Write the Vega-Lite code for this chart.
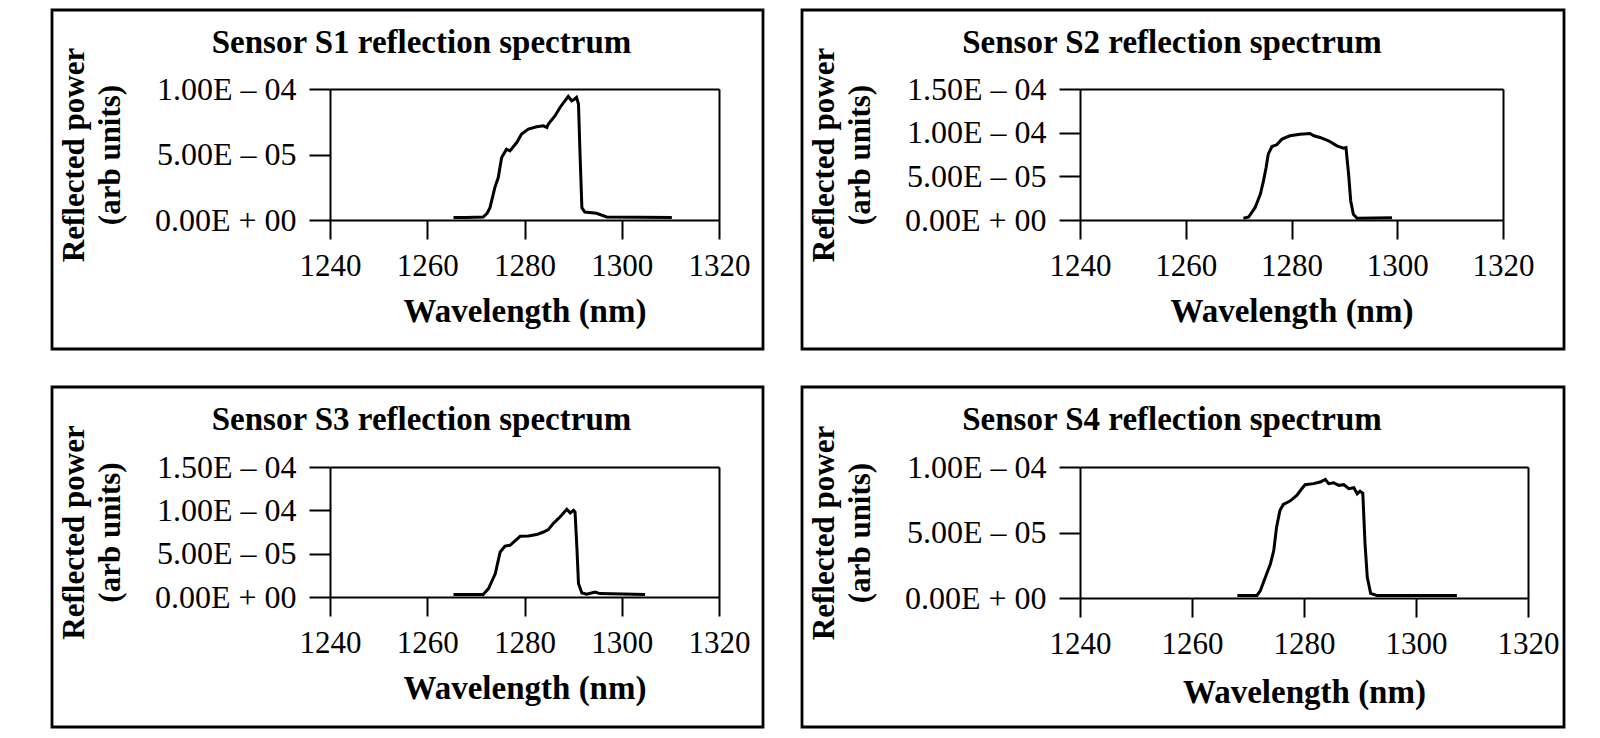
{
  "$schema": "https://vega.github.io/schema/vega-lite/v6.json",
  "background": "white",
  "padding": {"left": 50, "top": 8, "right": 0, "bottom": 0},
  "autosize": {"type": "pad"},
  "columns": 2,
  "spacing": {"row": 34, "column": 35},
  "config": {
    "view": {"stroke": "black", "strokeWidth": 2.8},
    "font": "Liberation Serif",
    "axis": {
      "domainColor": "black", "domainWidth": 2, "tickColor": "black", "tickWidth": 2,
      "labelColor": "black", "titleColor": "black", "labelFont": "Liberation Serif", "titleFont": "Liberation Serif",
      "grid": false, "labelFlush": false, "labelOverlap": false
    },
    "title": {"font": "Liberation Serif", "fontSize": 33, "fontWeight": "bold", "color": "black"}
  },
  "data": {"values": [
    {"sensor":"S1","wl":1265.4,"p":2.0e-6},{"sensor":"S1","wl":1268,"p":2.0e-6},{"sensor":"S1","wl":1271.5,"p":2.2e-6},{"sensor":"S1","wl":1272.3,"p":5e-6},{"sensor":"S1","wl":1272.9,"p":9.4e-6},{"sensor":"S1","wl":1273.9,"p":2.47e-5},{"sensor":"S1","wl":1274.6,"p":3.24e-5},{"sensor":"S1","wl":1275.3,"p":4.77e-5},{"sensor":"S1","wl":1276.3,"p":5.41e-5},{"sensor":"S1","wl":1277.0,"p":5.28e-5},{"sensor":"S1","wl":1278.4,"p":5.91e-5},{"sensor":"S1","wl":1279.4,"p":6.56e-5},{"sensor":"S1","wl":1280.8,"p":6.94e-5},{"sensor":"S1","wl":1282.5,"p":7.12e-5},{"sensor":"S1","wl":1283.9,"p":7.19e-5},{"sensor":"S1","wl":1284.6,"p":7.06e-5},{"sensor":"S1","wl":1284.9,"p":7.32e-5},{"sensor":"S1","wl":1286.3,"p":7.96e-5},{"sensor":"S1","wl":1287.3,"p":8.59e-5},{"sensor":"S1","wl":1288.3,"p":9.1e-5},{"sensor":"S1","wl":1289.0,"p":9.43e-5},{"sensor":"S1","wl":1289.7,"p":9.1e-5},{"sensor":"S1","wl":1290.2,"p":9.2e-5},{"sensor":"S1","wl":1290.7,"p":9.36e-5},{"sensor":"S1","wl":1291.1,"p":8.85e-5},{"sensor":"S1","wl":1291.4,"p":5.28e-5},{"sensor":"S1","wl":1291.8,"p":9.4e-6},{"sensor":"S1","wl":1292.4,"p":6.1e-6},{"sensor":"S1","wl":1294.8,"p":5.1e-6},{"sensor":"S1","wl":1296.9,"p":2.3e-6},{"sensor":"S1","wl":1310.3,"p":2.0e-6},
    {"sensor":"S2","wl":1270.9,"p":2e-6},{"sensor":"S2","wl":1271.9,"p":3.4e-6},{"sensor":"S2","wl":1273.1,"p":1.41e-5},{"sensor":"S2","wl":1274.1,"p":2.95e-5},{"sensor":"S2","wl":1274.7,"p":4.48e-5},{"sensor":"S2","wl":1275.2,"p":6.0e-5},{"sensor":"S2","wl":1275.6,"p":7.54e-5},{"sensor":"S2","wl":1276.3,"p":8.41e-5},{"sensor":"S2","wl":1277.2,"p":8.61e-5},{"sensor":"S2","wl":1278.2,"p":9.26e-5},{"sensor":"S2","wl":1279.7,"p":9.64e-5},{"sensor":"S2","wl":1281.6,"p":9.83e-5},{"sensor":"S2","wl":1283.5,"p":9.9e-5},{"sensor":"S2","wl":1284.2,"p":9.64e-5},{"sensor":"S2","wl":1285.4,"p":9.45e-5},{"sensor":"S2","wl":1287.0,"p":9.07e-5},{"sensor":"S2","wl":1288.6,"p":8.49e-5},{"sensor":"S2","wl":1289.8,"p":8.23e-5},{"sensor":"S2","wl":1290.3,"p":8.3e-5},{"sensor":"S2","wl":1290.8,"p":5.24e-5},{"sensor":"S2","wl":1291.2,"p":2.18e-5},{"sensor":"S2","wl":1291.7,"p":6.5e-6},{"sensor":"S2","wl":1292.4,"p":2e-6},{"sensor":"S2","wl":1299.0,"p":2.5e-6},
    {"sensor":"S3","wl":1265.4,"p":3e-6},{"sensor":"S3","wl":1271.5,"p":3e-6},{"sensor":"S3","wl":1272.6,"p":9.7e-6},{"sensor":"S3","wl":1274.0,"p":2.7e-5},{"sensor":"S3","wl":1274.6,"p":4.23e-5},{"sensor":"S3","wl":1275.0,"p":5.19e-5},{"sensor":"S3","wl":1276.0,"p":5.88e-5},{"sensor":"S3","wl":1277.0,"p":5.96e-5},{"sensor":"S3","wl":1278.0,"p":6.46e-5},{"sensor":"S3","wl":1279.1,"p":7.0e-5},{"sensor":"S3","wl":1280.8,"p":7.04e-5},{"sensor":"S3","wl":1282.5,"p":7.2e-5},{"sensor":"S3","wl":1283.9,"p":7.5e-5},{"sensor":"S3","wl":1284.9,"p":7.78e-5},{"sensor":"S3","wl":1285.9,"p":8.47e-5},{"sensor":"S3","wl":1287.3,"p":9.23e-5},{"sensor":"S3","wl":1288.7,"p":1.012e-4},{"sensor":"S3","wl":1289.4,"p":9.69e-5},{"sensor":"S3","wl":1290.1,"p":1.0e-4},{"sensor":"S3","wl":1290.4,"p":9.8e-5},{"sensor":"S3","wl":1290.8,"p":5.39e-5},{"sensor":"S3","wl":1291.1,"p":1.55e-5},{"sensor":"S3","wl":1291.8,"p":4.6e-6},{"sensor":"S3","wl":1292.8,"p":3.1e-6},{"sensor":"S3","wl":1294.5,"p":5.8e-6},{"sensor":"S3","wl":1295.5,"p":3.9e-6},{"sensor":"S3","wl":1304.8,"p":3e-6},
    {"sensor":"S4","wl":1268.1,"p":2e-6},{"sensor":"S4","wl":1271.6,"p":2e-6},{"sensor":"S4","wl":1272.2,"p":5.6e-6},{"sensor":"S4","wl":1273.1,"p":1.58e-5},{"sensor":"S4","wl":1274.0,"p":2.6e-5},{"sensor":"S4","wl":1274.6,"p":3.62e-5},{"sensor":"S4","wl":1275.1,"p":5.41e-5},{"sensor":"S4","wl":1275.7,"p":6.68e-5},{"sensor":"S4","wl":1276.3,"p":7.14e-5},{"sensor":"S4","wl":1277.5,"p":7.4e-5},{"sensor":"S4","wl":1278.7,"p":7.83e-5},{"sensor":"S4","wl":1279.6,"p":8.34e-5},{"sensor":"S4","wl":1280.2,"p":8.65e-5},{"sensor":"S4","wl":1281.7,"p":8.73e-5},{"sensor":"S4","wl":1282.9,"p":8.85e-5},{"sensor":"S4","wl":1283.8,"p":9.06e-5},{"sensor":"S4","wl":1284.4,"p":8.73e-5},{"sensor":"S4","wl":1285.3,"p":8.8e-5},{"sensor":"S4","wl":1286.2,"p":8.6e-5},{"sensor":"S4","wl":1287.1,"p":8.65e-5},{"sensor":"S4","wl":1288.0,"p":8.34e-5},{"sensor":"S4","wl":1288.9,"p":8.42e-5},{"sensor":"S4","wl":1289.5,"p":7.96e-5},{"sensor":"S4","wl":1290.0,"p":8.16e-5},{"sensor":"S4","wl":1290.5,"p":8.0e-5},{"sensor":"S4","wl":1290.9,"p":4.13e-5},{"sensor":"S4","wl":1291.3,"p":1.58e-5},{"sensor":"S4","wl":1291.9,"p":3.5e-6},{"sensor":"S4","wl":1293.0,"p":2e-6},{"sensor":"S4","wl":1307.3,"p":2e-6}
  ]},
  "concat": [
    {
      "width": 711, "height": 339,
      "title": {"text": "Sensor S1 reflection spectrum", "anchor": "middle", "frame": "group", "dx": 14, "offset": -76, "baseline": "alphabetic"},
      "transform": [{"filter": "datum.sensor == 'S1'"}],
      "layer": [
        {
          "mark": {"type": "line", "color": "black", "strokeWidth": 3},
          "encoding": {
            "x": {"field": "wl", "type": "quantitative", "scale": {"domain": [1240, 1320], "range": [278, 667], "nice": false, "zero": false},
                  "axis": {"orient": "bottom", "offset": -129, "values": [1240,1260,1280,1300,1320], "format": "d", "tickSize": 19, "labelPadding": 12, "labelFontSize": 31, "title": "Wavelength (nm)", "titleFontSize": 33, "titleFontWeight": "bold", "titlePadding": 14}},
            "y": {"field": "p", "type": "quantitative", "scale": {"domain": [0, 0.0001], "range": [210, 79], "nice": false},
                  "axis": {"orient": "left", "offset": -278, "values": [0, 0.00005, 0.0001], "tickSize": 21, "labelPadding": 13, "labelFontSize": 32,
                           "labelExpr": "datum.value == 0 ? '0.00E + 00' : datum.value < 0.00009 ? format(datum.value * 100000, '.2f') + 'E – 05' : format(datum.value * 10000, '.2f') + 'E – 04'",
                           "title": ["Reflected power", "(arb units)"], "titleFontSize": 31, "titleFontWeight": "bold", "titleLineHeight": 36, "titlePadding": 28}}
          }
        },
        {
          "mark": {"type": "line", "opacity": 0},
          "encoding": {
            "x": {"field": "wl", "type": "quantitative", "axis": {"orient": "top", "offset": -79, "ticks": false, "labels": false, "title": null}},
            "y": {"field": "p", "type": "quantitative", "axis": {"orient": "right", "offset": -44, "ticks": false, "labels": false, "title": null}}
          }
        }
      ],
      "resolve": {"axis": {"x": "independent", "y": "independent"}}
    },
    {
      "width": 762, "height": 339,
      "title": {"text": "Sensor S2 reflection spectrum", "anchor": "middle", "frame": "group", "dx": -11, "offset": -76, "baseline": "alphabetic"},
      "transform": [{"filter": "datum.sensor == 'S2'"}],
      "layer": [
        {
          "mark": {"type": "line", "color": "black", "strokeWidth": 3},
          "encoding": {
            "x": {"field": "wl", "type": "quantitative", "scale": {"domain": [1240, 1320], "range": [278, 701], "nice": false, "zero": false},
                  "axis": {"orient": "bottom", "offset": -129, "values": [1240,1260,1280,1300,1320], "format": "d", "tickSize": 19, "labelPadding": 12, "labelFontSize": 31, "title": "Wavelength (nm)", "titleFontSize": 33, "titleFontWeight": "bold", "titlePadding": 14}},
            "y": {"field": "p", "type": "quantitative", "scale": {"domain": [0, 0.00015], "range": [210, 79], "nice": false},
                  "axis": {"orient": "left", "offset": -278, "values": [0, 0.00005, 0.0001, 0.00015], "tickSize": 21, "labelPadding": 13, "labelFontSize": 32,
                           "labelExpr": "datum.value == 0 ? '0.00E + 00' : datum.value < 0.00009 ? format(datum.value * 100000, '.2f') + 'E – 05' : format(datum.value * 10000, '.2f') + 'E – 04'",
                           "title": ["Reflected power", "(arb units)"], "titleFontSize": 31, "titleFontWeight": "bold", "titleLineHeight": 36, "titlePadding": 28}}
          }
        },
        {
          "mark": {"type": "line", "opacity": 0},
          "encoding": {
            "x": {"field": "wl", "type": "quantitative", "axis": {"orient": "top", "offset": -79, "ticks": false, "labels": false, "title": null}},
            "y": {"field": "p", "type": "quantitative", "axis": {"orient": "right", "offset": -61, "ticks": false, "labels": false, "title": null}}
          }
        }
      ],
      "resolve": {"axis": {"x": "independent", "y": "independent"}}
    },
    {
      "width": 711, "height": 340,
      "title": {"text": "Sensor S3 reflection spectrum", "anchor": "middle", "frame": "group", "dx": 14, "offset": -76, "baseline": "alphabetic"},
      "transform": [{"filter": "datum.sensor == 'S3'"}],
      "layer": [
        {
          "mark": {"type": "line", "color": "black", "strokeWidth": 3},
          "encoding": {
            "x": {"field": "wl", "type": "quantitative", "scale": {"domain": [1240, 1320], "range": [278, 667], "nice": false, "zero": false},
                  "axis": {"orient": "bottom", "offset": -130, "values": [1240,1260,1280,1300,1320], "format": "d", "tickSize": 19, "labelPadding": 12, "labelFontSize": 31, "title": "Wavelength (nm)", "titleFontSize": 33, "titleFontWeight": "bold", "titlePadding": 14}},
            "y": {"field": "p", "type": "quantitative", "scale": {"domain": [0, 0.00015], "range": [210, 80], "nice": false},
                  "axis": {"orient": "left", "offset": -278, "values": [0, 0.00005, 0.0001, 0.00015], "tickSize": 21, "labelPadding": 13, "labelFontSize": 32,
                           "labelExpr": "datum.value == 0 ? '0.00E + 00' : datum.value < 0.00009 ? format(datum.value * 100000, '.2f') + 'E – 05' : format(datum.value * 10000, '.2f') + 'E – 04'",
                           "title": ["Reflected power", "(arb units)"], "titleFontSize": 31, "titleFontWeight": "bold", "titleLineHeight": 36, "titlePadding": 28}}
          }
        },
        {
          "mark": {"type": "line", "opacity": 0},
          "encoding": {
            "x": {"field": "wl", "type": "quantitative", "axis": {"orient": "top", "offset": -80, "ticks": false, "labels": false, "title": null}},
            "y": {"field": "p", "type": "quantitative", "axis": {"orient": "right", "offset": -44, "ticks": false, "labels": false, "title": null}}
          }
        }
      ],
      "resolve": {"axis": {"x": "independent", "y": "independent"}}
    },
    {
      "width": 762, "height": 340,
      "title": {"text": "Sensor S4 reflection spectrum", "anchor": "middle", "frame": "group", "dx": -11, "offset": -76, "baseline": "alphabetic"},
      "transform": [{"filter": "datum.sensor == 'S4'"}],
      "layer": [
        {
          "mark": {"type": "line", "color": "black", "strokeWidth": 3},
          "encoding": {
            "x": {"field": "wl", "type": "quantitative", "scale": {"domain": [1240, 1320], "range": [278, 726], "nice": false, "zero": false},
                  "axis": {"orient": "bottom", "offset": -129, "values": [1240,1260,1280,1300,1320], "format": "d", "tickSize": 19, "labelPadding": 12, "labelFontSize": 31, "title": "Wavelength (nm)", "titleFontSize": 33, "titleFontWeight": "bold", "titlePadding": 17}},
            "y": {"field": "p", "type": "quantitative", "scale": {"domain": [0, 0.0001], "range": [211, 80], "nice": false},
                  "axis": {"orient": "left", "offset": -278, "values": [0, 0.00005, 0.0001], "tickSize": 21, "labelPadding": 13, "labelFontSize": 32,
                           "labelExpr": "datum.value == 0 ? '0.00E + 00' : datum.value < 0.00009 ? format(datum.value * 100000, '.2f') + 'E – 05' : format(datum.value * 10000, '.2f') + 'E – 04'",
                           "title": ["Reflected power", "(arb units)"], "titleFontSize": 31, "titleFontWeight": "bold", "titleLineHeight": 36, "titlePadding": 28}}
          }
        },
        {
          "mark": {"type": "line", "opacity": 0},
          "encoding": {
            "x": {"field": "wl", "type": "quantitative", "axis": {"orient": "top", "offset": -80, "ticks": false, "labels": false, "title": null}},
            "y": {"field": "p", "type": "quantitative", "axis": {"orient": "right", "offset": -36, "ticks": false, "labels": false, "title": null}}
          }
        }
      ],
      "resolve": {"axis": {"x": "independent", "y": "independent"}}
    }
  ]
}
